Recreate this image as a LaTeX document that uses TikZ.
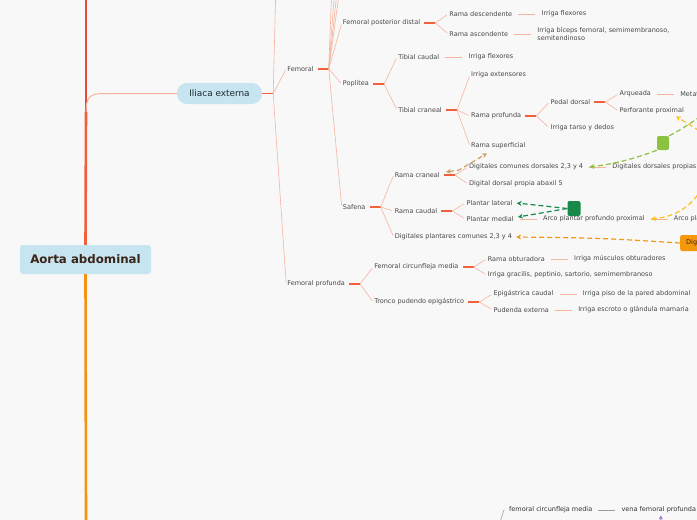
\documentclass[tikz,border=0pt]{standalone}
\usepackage{fontspec}
\setmainfont{DejaVu Sans}
\usetikzlibrary{positioning,arrows.meta,calc}

\definecolor{bgcol}{HTML}{F8F8F8}
\definecolor{boxblue}{HTML}{C7E5F0}
\definecolor{rootbrown}{HTML}{3B2418}
\definecolor{pilltext}{HTML}{1E2A30}
\definecolor{txtgray}{HTML}{474747}
\definecolor{darktxt}{HTML}{333333}
\definecolor{salmon}{HTML}{F6B49E}
\definecolor{stubred}{HTML}{F0603A}
\definecolor{trunkred}{HTML}{E8473B}
\definecolor{trunkorange}{HTML}{F5920F}
\definecolor{relgreen}{HTML}{8DC140}
\definecolor{reldkgreen}{HTML}{178A4A}
\definecolor{relorange}{HTML}{F5980C}
\definecolor{relyellow}{HTML}{F8C21B}
\definecolor{reltan}{HTML}{C9A06A}
\definecolor{relpurple}{HTML}{9E72C8}

\begin{document}
\begin{tikzpicture}[x=1pt, y=-1pt,
    lbl/.style={font=\fontsize{6.5}{8}\selectfont, text=txtgray, inner sep=1pt, anchor=west, align=left},
    rootbox/.style={rectangle, rounded corners=3pt, fill=boxblue, text=rootbrown, font=\fontsize{11.8}{14}\selectfont\bfseries, minimum width=131pt, minimum height=29pt, inner sep=0pt},
    pillbox/.style={rectangle, rounded corners=10pt, fill=boxblue, text=pilltext, font=\fontsize{8.9}{10}\selectfont, minimum width=85pt, minimum height=21pt, inner sep=0pt},
    relbox/.style={rectangle, rounded corners=2pt, minimum width=12pt, minimum height=14pt, inner sep=0pt},
    trunk/.style={line width=2.6pt},
    stub/.style={stubred, line width=1.1pt},
    fan/.style={salmon, line width=0.6pt, shorten >=1.5pt},
    leafline/.style={salmon, line width=0.8pt, shorten <=5pt, shorten >=5pt},
    rel/.style={line width=1.2pt, dash pattern=on 5pt off 3pt, -{Stealth[length=5pt, width=5pt]}},
    linkgray/.style={gray!80, line width=0.6pt}
]
\fill[bgcol] (0,0) rectangle (697,520);
\useasboundingbox (0,0) rectangle (697,520);

% ============================================================
% ROOT AND MAIN BRANCH
% ============================================================
\node[rootbox] (aorta)  at (85.5,259.5) {Aorta abdominal};
\node[pillbox] (iliaca) at (219.5,93.5) {Iliaca externa};

\coordinate (trunktop)  at (86,0);
\coordinate (trunkbend) at (86,112);
\coordinate (trunkbot)  at (86,520);

\coordinate (jili) at ($(iliaca.east)+(11,0)$);
\node[lbl] (femoral) at ($(iliaca.east)+(24,-24.5)$) {Femoral};
\node[lbl] (fprof)   at ($(iliaca.east)+(24,190.5)$) {Femoral profunda};
\coordinate (ilitop) at ($(jili)+(2.5,-100)$);

% femoral
\coordinate (jfem) at ($(femoral.east)+(14,0)$);
\node[lbl] (fpd) at ($(femoral.east)+(27,-46)$) {Femoral posterior distal};
\node[lbl] (pop) at ($(femoral.east)+(27,15)$)  {Poplítea};
\node[lbl] (saf) at ($(femoral.east)+(27,138)$) {Safena};
\coordinate (femtopA) at ($(jfem)+(3,-80)$);
\coordinate (femtopB) at ($(jfem)+(6,-80)$);
\coordinate (femtopC) at ($(jfem)+(8.5,-80)$);
\coordinate (femtopD) at ($(jfem)+(11,-80)$);

% femoral posterior distal
\coordinate (jfpd) at ($(fpd.east)+(14,0)$);
\node[lbl] (rdesc) at ($(fpd.east)+(27,-9)$) {Rama descendente};
\node[lbl] (rasc)  at ($(fpd.east)+(27,11)$) {Rama ascendente};
\node[lbl, right=27pt of rdesc] (rdescirr) {Irriga flexores};
\node[lbl, right=27pt of rasc]  (rascirr)  {Irriga bíceps femoral, semimembranoso,\\semitendinoso};

% poplitea
\coordinate (jpop) at ($(pop.east)+(14,0)$);
\node[lbl] (tcau) at ($(pop.east)+(27,-27)$) {Tibial caudal};
\node[lbl] (tcra) at ($(pop.east)+(27,26)$)  {Tibial craneal};
\node[lbl, right=27pt of tcau] (tcauirr) {Irriga flexores};

% tibial craneal
\coordinate (jtcra) at ($(tcra.east)+(14,0)$);
\node[lbl] (iext)  at ($(tcra.east)+(27,-35)$) {Irriga extensores};
\node[lbl] (rprof) at ($(tcra.east)+(27,6)$)   {Rama profunda};
\node[lbl] (rsup)  at ($(tcra.east)+(27,36)$)  {Rama superficial};

% rama profunda
\coordinate (jrprof) at ($(rprof.east)+(14,0)$);
\node[lbl] (pedal)  at ($(rprof.east)+(27,-14)$) {Pedal dorsal};
\node[lbl] (itarso) at ($(rprof.east)+(27,12)$)  {Irriga tarso y dedos};

% pedal dorsal
\coordinate (jpedal) at ($(pedal.east)+(14,0)$);
\node[lbl] (arq)  at ($(pedal.east)+(27,-8)$) {Arqueada};
\node[lbl] (perf) at ($(pedal.east)+(27,9)$)  {Perforante proximal};
\node[lbl, right=27pt of arq] (metat) {Metatarsianas};

% safena
\coordinate (jsaf) at ($(saf.east)+(14,0)$);
\node[lbl] (rcra) at ($(saf.east)+(27,-32)$) {Rama craneal};
\node[lbl] (rcau) at ($(saf.east)+(27,4)$)   {Rama caudal};
\node[lbl] (dpc)  at ($(saf.east)+(27,30)$)  {Digitales plantares comunes 2,3 y 4};

% rama craneal
\coordinate (jrcra) at ($(rcra.east)+(14,0)$);
\node[lbl] (dcd) at ($(rcra.east)+(27,-8)$) {Digitales comunes dorsales 2,3 y 4};
\node[lbl] (dda) at ($(rcra.east)+(27,9)$)  {Digital dorsal propia abaxil 5};
\node[lbl, right=27pt of dcd] (ddp) {Digitales dorsales propias};

% rama caudal
\coordinate (jrcau) at ($(rcau.east)+(14,0)$);
\node[lbl] (plat) at ($(rcau.east)+(27,-8)$) {Plantar lateral};
\node[lbl] (pmed) at ($(rcau.east)+(27,8)$)  {Plantar medial};
\node[lbl, right=27pt of pmed] (appx) {Arco plantar profundo proximal};
\node[lbl, right=27pt of appx] (apd)  {Arco plantar};

% femoral profunda
\coordinate (jfprof) at ($(fprof.east)+(14,0)$);
\node[lbl] (fcm) at ($(fprof.east)+(27,-17)$) {Femoral circunfleja media};
\node[lbl] (tpe) at ($(fprof.east)+(27,18)$)  {Tronco pudendo epigástrico};

\coordinate (jfcm) at ($(fcm.east)+(14,0)$);
\node[lbl] (robt)  at ($(fcm.east)+(27,-8)$) {Rama obturadora};
\node[lbl] (igrac) at ($(fcm.east)+(27,8)$)  {Irriga gracilis, peptinio, sartorio, semimembranoso};
\node[lbl, right=27pt of robt] (robtirr) {Irriga músculos obturadores};

\coordinate (jtpe) at ($(tpe.east)+(14,0)$);
\node[lbl] (epi) at ($(tpe.east)+(27,-8)$) {Epigástrica caudal};
\node[lbl] (pud) at ($(tpe.east)+(27,8)$)  {Pudenda externa};
\node[lbl, right=27pt of epi] (epiirr) {Irriga piso de la pared abdominal};
\node[lbl, right=27pt of pud] (pudirr) {Irriga escroto o glándula mamaria};

% lower subtree (cut by the bottom edge)
\node[lbl, text=darktxt] (fcmv) at (508,510) {femoral circunfleja media};
\node[lbl, text=darktxt, right=27pt of fcmv] (vfp) {vena femoral profunda};
\coordinate (fcmvin) at (498,528);
\coordinate (purin)  at (661,530);

% relation markers
\node[relbox, fill=relgreen] (gsq) at (663,143) {};
\node[relbox, fill=reldkgreen, minimum width=13pt, minimum height=15pt] (dsq) at (574,208.5) {};
\node[relbox, fill=relorange, anchor=west, minimum height=16pt, inner xsep=6pt,
      font=\fontsize{6.5}{8}\selectfont, text=rootbrown] (orgnode) at (680,243) {Digitales};
\coordinate (gout) at (706,113);
\coordinate (yelA) at (706,135);
\coordinate (yelB) at (706,182);
\coordinate (tanmid) at (459,170);

% ============================================================
% CONNECTORS
% ============================================================
\draw[trunk, trunkred] (trunktop) -- (trunkbend);
\draw[trunk, stubred] (trunkbend) -- (aorta.north);
\draw[trunk, trunkorange] (aorta.south) -- (trunkbot);
\draw[salmon, line width=1pt] (trunkbend) .. controls (86,97) and (90,93.5) .. (104,93.5) -- (iliaca.west);

\draw[stub] (iliaca.east) -- (jili);
\draw[fan] (jili) -- (ilitop);
\draw[fan] (jili) -- (femoral.west);
\draw[fan] (jili) -- (fprof.west);

\draw[stub] ([xshift=3pt]femoral.east) -- (jfem);
\draw[fan] (jfem) -- (femtopA);
\draw[fan] (jfem) -- (femtopB);
\draw[fan] (jfem) -- (femtopC);
\draw[fan] (jfem) -- (femtopD);
\draw[fan] (jfem) -- (fpd.west);
\draw[fan] (jfem) -- (pop.west);
\draw[fan] (jfem) -- (saf.west);

\draw[stub] ([xshift=3pt]fpd.east) -- (jfpd);
\draw[fan] (jfpd) -- (rdesc.west);
\draw[fan] (jfpd) -- (rasc.west);
\draw[leafline] (rdesc) -- (rdescirr);
\draw[leafline] (rasc) -- (rascirr);

\draw[stub] ([xshift=3pt]pop.east) -- (jpop);
\draw[fan] (jpop) -- (tcau.west);
\draw[fan] (jpop) -- (tcra.west);
\draw[leafline] (tcau) -- (tcauirr);

\draw[stub] ([xshift=3pt]tcra.east) -- (jtcra);
\draw[fan] (jtcra) -- (iext.west);
\draw[fan] (jtcra) -- (rprof.west);
\draw[fan] (jtcra) -- (rsup.west);

\draw[stub] ([xshift=3pt]rprof.east) -- (jrprof);
\draw[fan] (jrprof) -- (pedal.west);
\draw[fan] (jrprof) -- (itarso.west);

\draw[stub] ([xshift=3pt]pedal.east) -- (jpedal);
\draw[fan] (jpedal) -- (arq.west);
\draw[fan] (jpedal) -- (perf.west);
\draw[leafline] (arq) -- (metat);

\draw[stub] ([xshift=3pt]saf.east) -- (jsaf);
\draw[fan] (jsaf) -- (rcra.west);
\draw[fan] (jsaf) -- (rcau.west);
\draw[fan] (jsaf) -- (dpc.west);

\draw[stub] ([xshift=3pt]rcra.east) -- (jrcra);
\draw[fan] (jrcra) -- (dcd.west);
\draw[fan] (jrcra) -- (dda.west);
\draw[leafline] (dcd) -- (ddp);

\draw[stub] ([xshift=3pt]rcau.east) -- (jrcau);
\draw[fan] (jrcau) -- (plat.west);
\draw[fan] (jrcau) -- (pmed.west);
\draw[leafline] (pmed) -- (appx);
\draw[leafline] (appx) -- (apd);

\draw[stub] ([xshift=3pt]fprof.east) -- (jfprof);
\draw[fan] (jfprof) -- (fcm.west);
\draw[fan] (jfprof) -- (tpe.west);

\draw[stub] ([xshift=3pt]fcm.east) -- (jfcm);
\draw[fan] (jfcm) -- (robt.west);
\draw[fan] (jfcm) -- (igrac.west);
\draw[leafline] (robt) -- (robtirr);

\draw[stub] ([xshift=3pt]tpe.east) -- (jtpe);
\draw[fan] (jtpe) -- (epi.west);
\draw[fan] (jtpe) -- (pud.west);
\draw[leafline] (epi) -- (epiirr);
\draw[leafline] (pud) -- (pudirr);

\draw[linkgray] (fcmvin) -- ([xshift=-4pt]fcmv.west);
\draw[linkgray, shorten <=5pt, shorten >=5pt] (fcmv) -- (vfp);

% relations (dashed)
\draw[rel, reltan, {Stealth[length=5pt, width=5pt]}-{Stealth[length=5pt, width=5pt]}]
    ([shift={(5,-3)}]rcra.east) -- (tanmid) -- ($(rsup.south west)+(17,3)$);
\draw[rel, relgreen] (gsq.south west) .. controls (640,157) and (615,164) .. ([xshift=5pt]dcd.east);
\draw[rel, relgreen, -] (gsq.north east) .. controls (680,130) .. (gout);
\draw[rel, reldkgreen] (dsq.west) -- ([xshift=3pt]plat.east);
\draw[rel, reldkgreen] (dsq.west) -- ([shift={(3,-2)}]pmed.east);
\draw[rel, relorange] (orgnode.west) .. controls (600,238) .. ([xshift=3pt]dpc.east);
\draw[rel, relyellow] (yelA) -- ($(perf.south east)+(-9,1)$);
\draw[rel, relyellow] (yelB) .. controls (690,212) and (670,217) .. ([xshift=5pt]appx.east);
\draw[relpurple, line width=1pt, -{Stealth[length=4pt, width=4pt]}] (purin) -- ([shift={(2,1)}]vfp.south);

\end{tikzpicture}
\end{document}
